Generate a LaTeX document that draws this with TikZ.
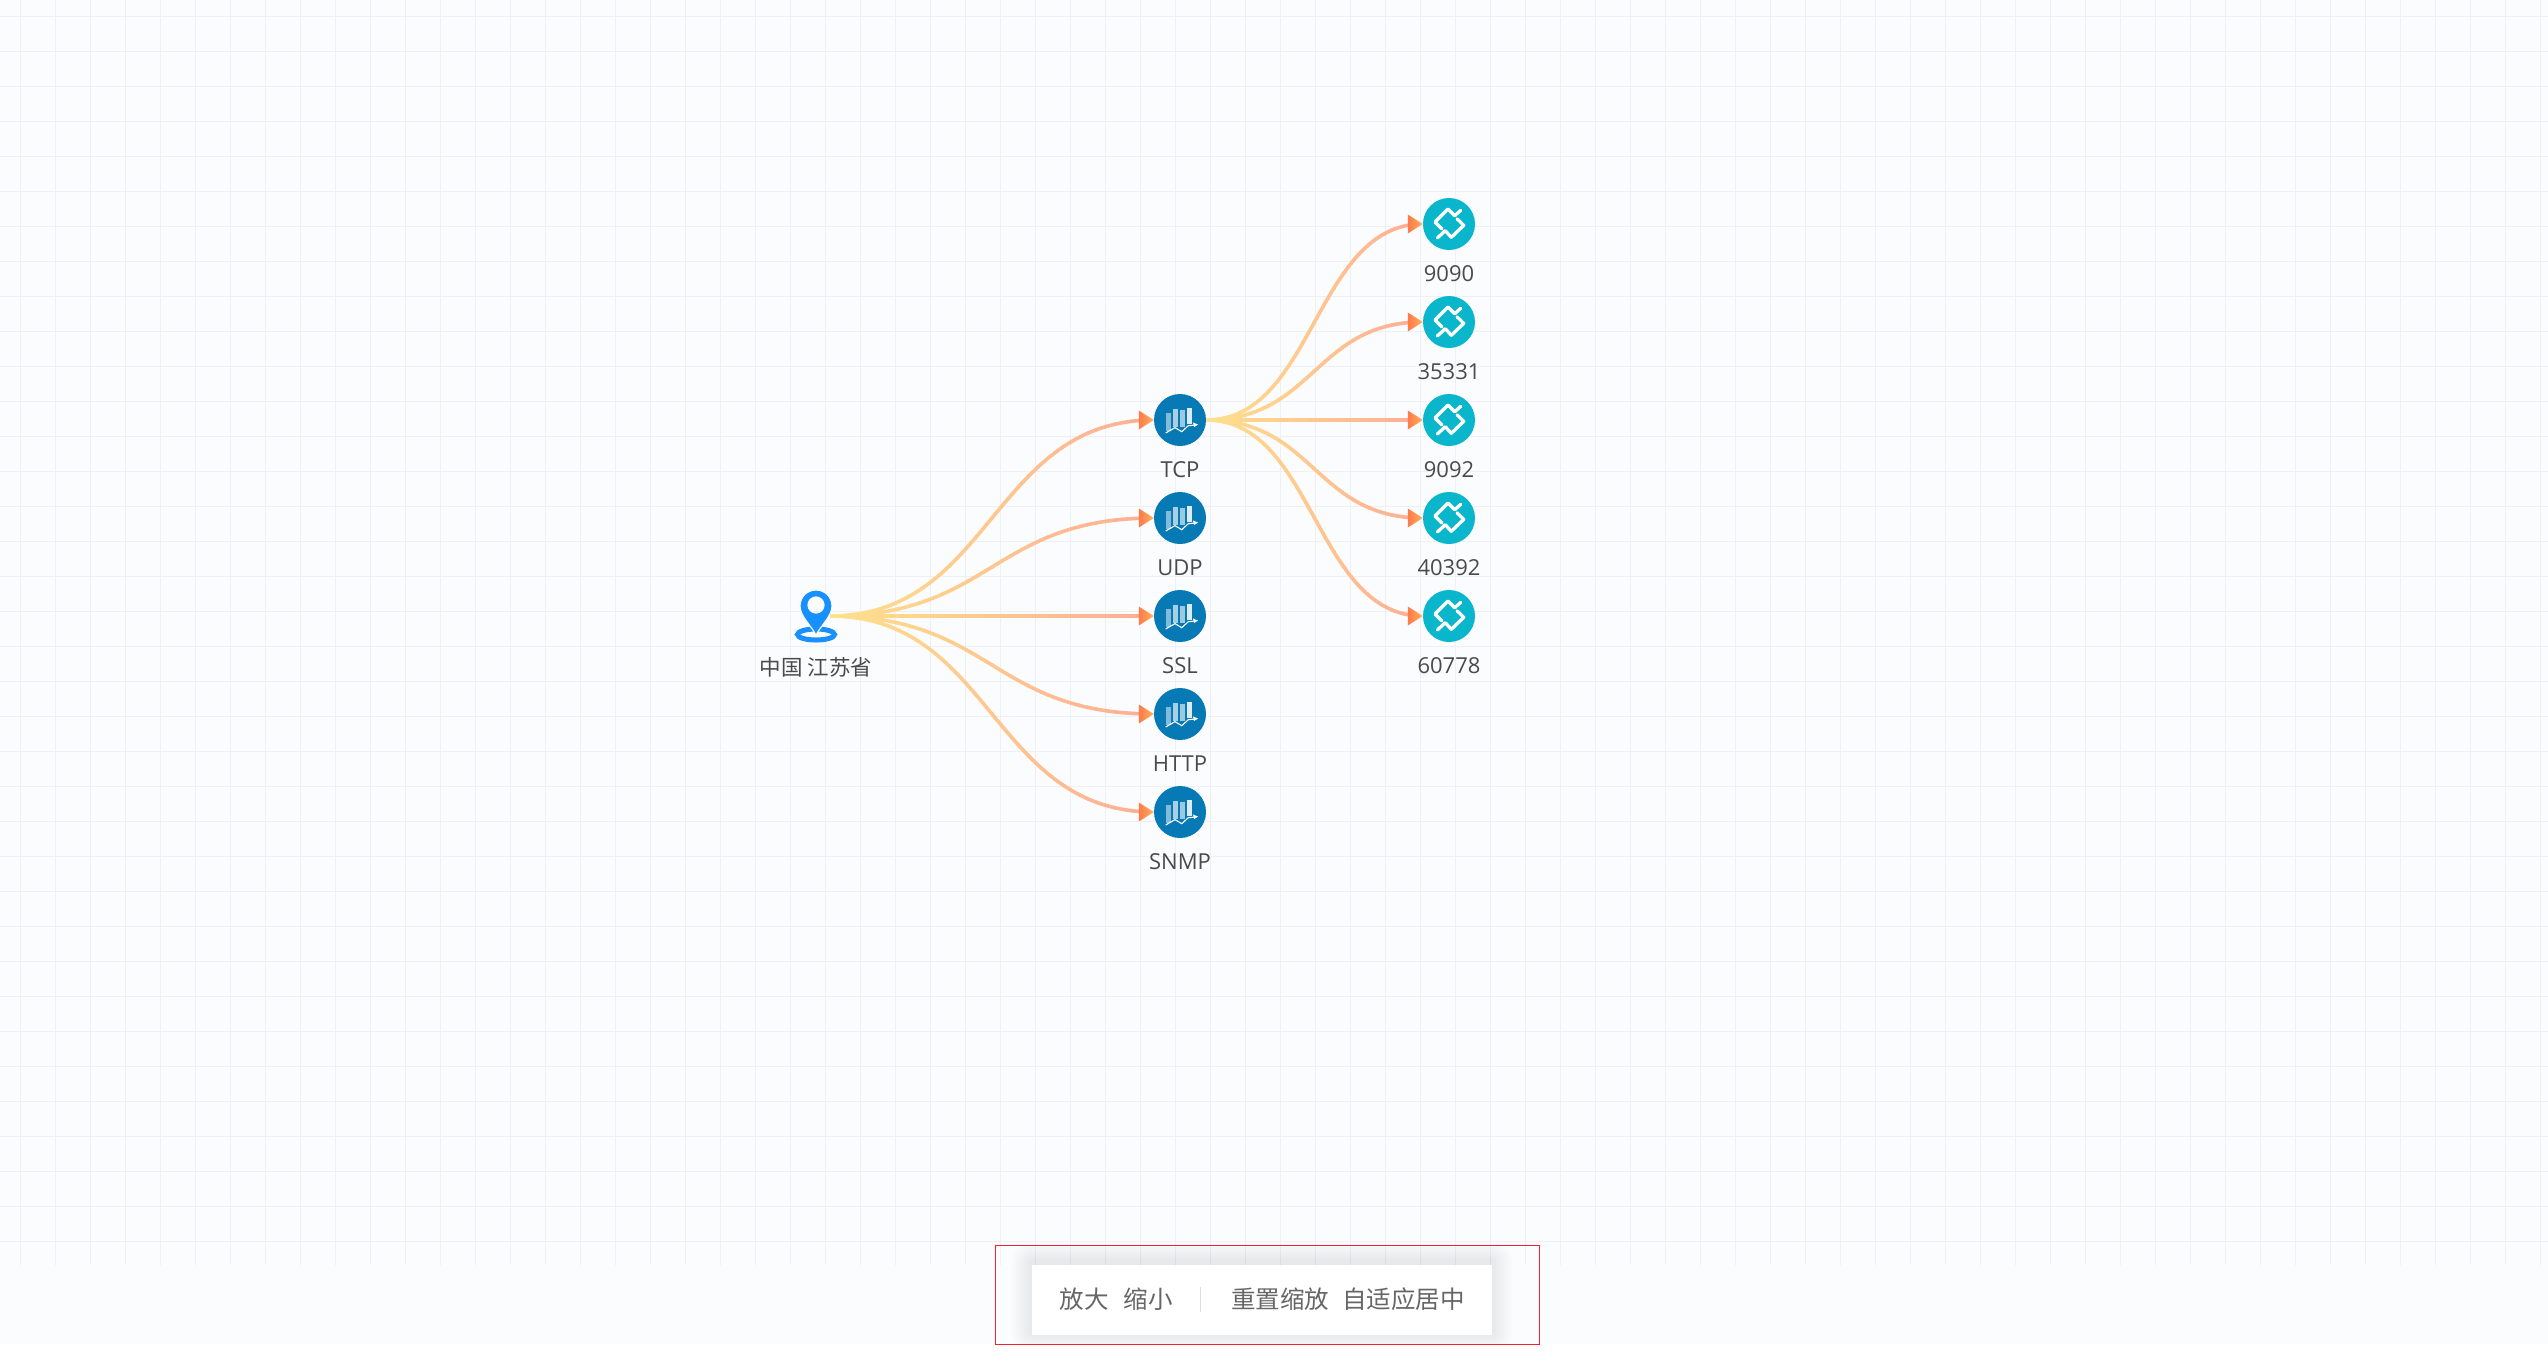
\documentclass[tikz,border=0pt]{standalone}
\usepackage{fontspec}
\setmainfont{Open Sans}
\newfontfamily\cjk{Noto Sans CJK SC}
\usepackage{xcolor}
\usetikzlibrary{calc}
\definecolor{pagebg}{HTML}{FBFCFE}
\definecolor{gridline}{HTML}{EEF0F3}
\definecolor{flowstart}{HTML}{FFE08C}
\definecolor{flowend}{HTML}{FFB094}
\definecolor{tipstart}{HTML}{FF7A48}
\definecolor{tipend}{HTML}{FFB060}
\definecolor{pinblue}{HTML}{1890FF}
\definecolor{protoblue}{HTML}{0779B5}
\definecolor{portteal}{HTML}{09B6CC}
\definecolor{labelgray}{HTML}{4A4A4A}
\definecolor{toolgray}{HTML}{666666}
\definecolor{framered}{HTML}{EE2233}
\definecolor{sepgray}{HTML}{DDDDDD}
\tikzset{
	protonode/.style={circle, fill=protoblue, minimum size=52pt, inner sep=0pt},
	portnode/.style={circle, fill=portteal, minimum size=52pt, inner sep=0pt},
	sourcenode/.style={circle, minimum size=28pt, inner sep=0pt},
	labeltext/.style={text=labelgray, font=\fontsize{22}{22}\selectfont, inner sep=0pt},
	tooltext/.style={text=toolgray, font=\cjk\fontsize{24.5}{24.5}\selectfont, inner sep=0pt},
	flowline/.style={line width=3.6pt},
	charticon/.pic={
			\fill[white, opacity=0.5] (-14.3,-6.7) rectangle (-9.3,11);
			\fill[white, opacity=0.65] (-7.3,-11) rectangle (-2,6.5);
			\fill[white, opacity=0.6] (-0.5,-10) rectangle (4.5,7);
			\fill[white, opacity=0.85] (6.7,-11.7) rectangle (12,3.5);
			\draw[white, line width=1.1pt] (-14.3,13) -- (-5,7.6) -- (1.7,11.7) -- (8.3,5.7) -- (15,5);
			\fill[white] (18,4.6) -- (13,2.4) -- (14,7) -- cycle;
		},
	porticon/.pic={
			\draw[white, line width=3.3pt, line cap=round, line join=round]
			(11.7,-13.7) -- (5.7,-8.3) -- (-1,-15) -- (-14,-2) -- (-7,5)
			(-11.7,14) -- (-3.7,6.7) -- (2.3,13.3) -- (14.7,1.3) -- (8,-5.3);
		},
	pinicon/.pic={
			\draw[pinblue, line width=5pt] (0,18.5) ellipse [x radius=18.5, y radius=5.5];
			\fill[pinblue, draw=pagebg, line width=1.2pt, even odd rule]
			(-16,-10) .. controls (-16,-19) and (-9,-26) .. (0,-26)
			.. controls (9,-26) and (16,-19) .. (16,-10)
			.. controls (16,0) and (6,8) .. (0,19)
			.. controls (-6,8) and (-16,0) .. (-16,-10) -- cycle
			(0,-11) circle [radius=8];
		}
}
% strips of one colour each, so that the curves run yellow to orange
\newcommand{\flowgroup}[4]{
	\foreach \s in {0,...,35}{
			\pgfmathsetmacro\mixval{\s*100/35}
			\colorlet{flowtmp}{flowend!\mixval!flowstart}
			\begin{scope}
				\clip ({#3+\s*(#4-#3)/36},0) rectangle ({#3+(\s+1)*(#4-#3)/36+0.7},1352);
				\foreach \tgt in {#2}{
						\coordinate (m) at ($(#1.east)!0.5!(\tgt.west)$);
						\draw[flowline, flowtmp] (#1.east) .. controls (m|-#1.east) and (m|-\tgt.west) .. (\tgt.west);
					}
			\end{scope}
		}
	\foreach \tgt in {#2}{
			\shade[left color=tipstart, right color=tipend]
			($(\tgt.west)+(-15,-9.5)$) -- ($(\tgt.west)+(-15,9.5)$) -- (\tgt.west) -- cycle;
		}
}

\begin{document}
\begin{tikzpicture}[x=1pt,y=-1pt]
	\useasboundingbox (0,0) rectangle (2548,1352);
	\fill[white] (0,0) rectangle (2548,1352);
	\fill[pagebg] (0,0) rectangle (2548,1344);

	% Grid
	\foreach \k in {0,...,72}
	\draw[gridline, line width=1pt] ({20.5+35*\k},0) -- ({20.5+35*\k},1265);
	\foreach \k in {0,...,35}
	\draw[gridline, line width=1pt] (0,{16.5+35*\k}) -- (2548,{16.5+35*\k});

	% Source
	\node[sourcenode] (jiangsu) at (816,616) {};
	\pic at (jiangsu) {pinicon};
	\node[labeltext, font=\cjk\fontsize{21.5}{21.5}\selectfont] (jiangsulabel) at (816,667) {中国 江苏省};

	% Protocols
	\foreach \name/\txt/\y in {tcp/TCP/420,udp/UDP/518,ssl/SSL/616,http/HTTP/714,snmp/SNMP/812}{
			\node[protonode] (\name) at (1180,\y) {};
			\pic at (\name) {charticon};
			\node[labeltext] (\name label) at (1180,\y+50) {\txt};
		}

	% Ports
	\foreach \name/\txt/\y in {pa/9090/224,pb/35331/322,pc/9092/420,pd/40392/518,pe/60778/616}{
			\node[portnode] (\name) at (1449,\y) {};
			\pic at (\name) {porticon};
			\node[labeltext] (\name label) at (1449,\y+50) {\txt};
		}

	% Curves with arrows
	\flowgroup{jiangsu}{tcp,udp,ssl,http,snmp}{830}{1139}
	\flowgroup{tcp}{pa,pb,pc,pd,pe}{1206}{1408}

	% Toolbar
	\node[minimum width=543pt, minimum height=98pt, inner sep=0pt] (frame) at (1267.5,1295) {};
	\begin{scope}
		\clip (frame.south west) rectangle (frame.north east);
		\foreach \r in {2,4,...,20}
		\fill[black, opacity=0.006, rounded corners=\r pt] (1032-\r,1262-\r) rectangle (1492+\r,1332+\r);
	\end{scope}
	\node[fill=white, minimum width=460pt, minimum height=70pt, inner sep=0pt] (bar) at (1262,1300) {};
	\draw[framered, line width=1.1pt] (frame.south west) rectangle (frame.north east);
	\node[tooltext] (zoomin) at (1084,1299) {放大};
	\node[tooltext] (zoomout) at (1148,1299) {缩小};
	\node[tooltext] (reset) at (1280,1299) {重置缩放};
	\node[tooltext] (fitcenter) at (1403.5,1299) {自适应居中};
	\coordinate (septop) at (1200.5,1287);
	\coordinate (sepbot) at (1200.5,1312);
	\draw[sepgray, line width=1pt] (septop) -- (sepbot);
\end{tikzpicture}
\end{document}
